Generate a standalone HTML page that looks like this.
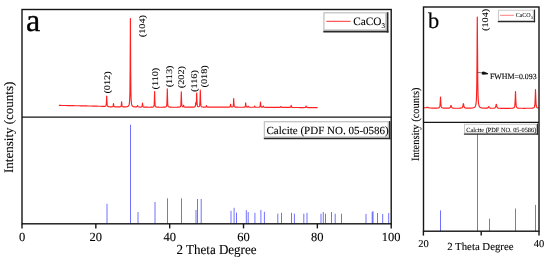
<!DOCTYPE html>
<html><head><meta charset="utf-8"><style>
html,body{margin:0;padding:0;background:#fff;}
svg{display:block;text-rendering:geometricPrecision;}
text{font-family:"Liberation Serif","Times New Roman",serif;fill:#000;stroke:#000;stroke-width:0.1px;}
.pk text{stroke-width:0.1px;}
</style></head><body>
<svg width="550" height="261" viewBox="0 0 550 261">
<rect width="550" height="261" fill="#fff"/>
<!-- PANEL A -->
<g fill="none" stroke="#0000ff" stroke-width="0.56">
<line x1="107.0" y1="203.8" x2="107.0" y2="223.8"/>
<line x1="130.5" y1="124.8" x2="130.5" y2="223.8"/>
<line x1="138.0" y1="212.0" x2="138.0" y2="223.8"/>
<line x1="155.0" y1="202.0" x2="155.0" y2="223.8"/>
<line x1="167.5" y1="198.3" x2="167.5" y2="223.8"/>
<line x1="181.5" y1="198.3" x2="181.5" y2="223.8"/>
<line x1="196.0" y1="210.0" x2="196.0" y2="223.8"/>
<line x1="197.5" y1="199.0" x2="197.5" y2="223.8"/>
<line x1="201.2" y1="199.0" x2="201.2" y2="223.8"/>
<line x1="231.0" y1="210.8" x2="231.0" y2="223.8"/>
<line x1="234.1" y1="207.8" x2="234.1" y2="223.8"/>
<line x1="236.5" y1="212.6" x2="236.5" y2="223.8"/>
<line x1="246.3" y1="210.1" x2="246.3" y2="223.8"/>
<line x1="248.2" y1="212.0" x2="248.2" y2="223.8"/>
<line x1="254.9" y1="212.8" x2="254.9" y2="223.8"/>
<line x1="260.9" y1="209.9" x2="260.9" y2="223.8"/>
<line x1="264.4" y1="211.8" x2="264.4" y2="223.8"/>
<line x1="277.8" y1="213.6" x2="277.8" y2="223.8"/>
<line x1="281.5" y1="212.8" x2="281.5" y2="223.8"/>
<line x1="291.5" y1="212.8" x2="291.5" y2="223.8"/>
<line x1="294.4" y1="213.7" x2="294.4" y2="223.8"/>
<line x1="303.8" y1="213.7" x2="303.8" y2="223.8"/>
<line x1="307.0" y1="212.8" x2="307.0" y2="223.8"/>
<line x1="321.0" y1="213.7" x2="321.0" y2="223.8"/>
<line x1="323.3" y1="212.0" x2="323.3" y2="223.8"/>
<line x1="325.5" y1="213.7" x2="325.5" y2="223.8"/>
<line x1="331.5" y1="212.0" x2="331.5" y2="223.8"/>
<line x1="335.2" y1="213.7" x2="335.2" y2="223.8"/>
<line x1="341.5" y1="213.7" x2="341.5" y2="223.8"/>
<line x1="366.0" y1="213.9" x2="366.0" y2="223.8"/>
<line x1="372.2" y1="212.0" x2="372.2" y2="223.8"/>
<line x1="373.0" y1="211.1" x2="373.0" y2="223.8"/>
<line x1="377.5" y1="213.0" x2="377.5" y2="223.8"/>
<line x1="382.7" y1="213.9" x2="382.7" y2="223.8"/>
<line x1="388.7" y1="213.0" x2="388.7" y2="223.8"/>
</g>
<path d="M58.90,105.40 L59.15,105.40 L59.40,105.41 L59.65,105.41 L59.90,105.42 L60.15,105.42 L60.40,105.43 L60.65,105.43 L60.90,105.44 L61.15,105.44 L61.40,105.45 L61.65,105.45 L61.90,105.46 L62.15,105.46 L62.40,105.47 L62.65,105.47 L62.90,105.48 L63.15,105.48 L63.40,105.49 L63.65,105.49 L63.90,105.49 L64.15,105.50 L64.40,105.50 L64.65,105.51 L64.90,105.51 L65.15,105.52 L65.40,105.52 L65.65,105.53 L65.90,105.53 L66.15,105.54 L66.40,105.54 L66.65,105.55 L66.90,105.55 L67.15,105.56 L67.40,105.56 L67.65,105.57 L67.90,105.57 L68.15,105.58 L68.40,105.58 L68.65,105.59 L68.90,105.59 L69.15,105.60 L69.40,105.60 L69.65,105.61 L69.90,105.61 L70.15,105.61 L70.40,105.62 L70.65,105.62 L70.90,105.63 L71.15,105.63 L71.40,105.64 L71.65,105.64 L71.90,105.65 L72.15,105.65 L72.40,105.66 L72.65,105.66 L72.90,105.67 L73.15,105.67 L73.40,105.68 L73.65,105.68 L73.90,105.69 L74.15,105.69 L74.40,105.70 L74.65,105.70 L74.90,105.71 L75.15,105.71 L75.40,105.72 L75.65,105.72 L75.90,105.73 L76.15,105.73 L76.40,105.73 L76.65,105.74 L76.90,105.74 L77.15,105.75 L77.40,105.75 L77.65,105.76 L77.90,105.76 L78.15,105.77 L78.40,105.77 L78.65,105.78 L78.90,105.78 L79.15,105.79 L79.40,105.79 L79.65,105.80 L79.90,105.80 L80.15,105.81 L80.40,105.81 L80.65,105.82 L80.90,105.82 L81.15,105.83 L81.40,105.83 L81.65,105.84 L81.90,105.84 L82.15,105.84 L82.40,105.85 L82.65,105.85 L82.90,105.86 L83.15,105.86 L83.40,105.87 L83.65,105.87 L83.90,105.88 L84.15,105.88 L84.40,105.89 L84.65,105.89 L84.90,105.90 L85.15,105.90 L85.40,105.91 L85.65,105.91 L85.90,105.92 L86.15,105.92 L86.40,105.93 L86.65,105.93 L86.90,105.94 L87.15,105.94 L87.40,105.95 L87.65,105.95 L87.90,105.95 L88.15,105.96 L88.40,105.96 L88.65,105.97 L88.90,105.97 L89.15,105.98 L89.40,105.98 L89.65,105.99 L89.90,105.99 L90.15,106.00 L90.40,106.01 L90.65,106.01 L90.90,106.02 L91.15,106.03 L91.40,106.03 L91.65,106.04 L91.90,106.05 L92.15,106.05 L92.40,106.06 L92.65,106.07 L92.90,106.08 L93.15,106.08 L93.40,106.09 L93.65,106.10 L93.90,106.10 L94.15,106.11 L94.40,106.12 L94.65,106.12 L94.90,106.13 L95.15,106.14 L95.40,106.15 L95.65,106.15 L95.90,106.16 L96.15,106.17 L96.40,106.17 L96.65,106.18 L96.90,106.19 L97.15,106.19 L97.40,106.20 L97.65,106.21 L97.90,106.21 L98.15,106.22 L98.40,106.23 L98.65,106.23 L98.90,106.24 L99.15,106.25 L99.40,106.25 L99.65,106.26 L99.90,106.26 L100.15,106.27 L100.40,106.28 L100.65,106.28 L100.90,106.29 L101.15,106.29 L101.40,106.30 L101.65,106.30 L101.90,106.31 L102.15,106.31 L102.40,106.32 L102.65,106.32 L102.90,106.32 L103.15,106.33 L103.40,106.33 L103.65,106.33 L103.90,106.32 L104.15,106.32 L104.40,106.33 L104.65,106.32 L104.90,106.31 L105.15,106.27 L105.40,106.21 L105.65,106.08 L105.90,105.80 L106.15,105.10 L106.40,102.87 L106.65,96.50 L106.70,96.00 L106.90,100.81 L107.15,104.60 L107.40,105.71 L107.65,106.15 L107.90,106.36 L108.15,106.49 L108.40,106.57 L108.65,106.64 L108.90,106.68 L109.15,106.72 L109.40,106.76 L109.65,106.79 L109.90,106.82 L110.15,106.83 L110.40,106.84 L110.65,106.84 L110.90,106.84 L111.15,106.84 L111.40,106.84 L111.65,106.83 L111.90,106.82 L112.15,106.80 L112.40,106.76 L112.65,106.68 L112.90,106.50 L113.15,105.96 L113.40,104.14 L113.50,103.60 L113.65,104.63 L113.90,106.13 L114.15,106.57 L114.40,106.72 L114.65,106.80 L114.90,106.84 L115.15,106.86 L115.40,106.88 L115.65,106.89 L115.90,106.90 L116.15,106.90 L116.40,106.91 L116.65,106.91 L116.90,106.91 L117.15,106.92 L117.40,106.92 L117.65,106.92 L117.90,106.92 L118.15,106.92 L118.40,106.92 L118.65,106.91 L118.90,106.91 L119.15,106.91 L119.40,106.90 L119.65,106.88 L119.90,106.86 L120.15,106.83 L120.40,106.78 L120.65,106.69 L120.90,106.48 L121.15,105.95 L121.40,104.10 L121.60,101.80 L121.65,101.99 L121.90,105.13 L122.15,106.23 L122.40,106.58 L122.65,106.73 L122.90,106.80 L123.15,106.84 L123.40,106.86 L123.65,106.88 L123.90,106.88 L124.15,106.89 L124.40,106.89 L124.65,106.88 L124.90,106.88 L125.15,106.87 L125.40,106.86 L125.65,106.85 L125.90,106.83 L126.15,106.81 L126.40,106.78 L126.65,106.75 L126.90,106.71 L127.15,106.65 L127.40,106.59 L127.65,106.50 L127.90,106.39 L128.15,106.23 L128.40,106.01 L128.65,105.70 L128.90,105.21 L129.15,104.42 L129.40,103.00 L129.65,100.07 L129.90,92.73 L130.15,68.46 L130.40,18.59 L130.40,18.60 L130.65,68.47 L130.90,92.74 L131.15,100.08 L131.40,103.01 L131.65,104.44 L131.90,105.24 L132.15,105.72 L132.40,106.04 L132.65,106.27 L132.90,106.43 L133.15,106.54 L133.40,106.63 L133.65,106.70 L133.90,106.76 L134.15,106.80 L134.40,106.84 L134.65,106.87 L134.90,106.89 L135.15,106.91 L135.40,106.92 L135.65,106.93 L135.90,106.93 L136.15,106.92 L136.40,106.90 L136.65,106.84 L136.90,106.73 L137.15,106.46 L137.40,105.88 L137.60,105.60 L137.65,105.54 L137.90,106.17 L138.15,106.62 L138.40,106.83 L138.65,106.93 L138.90,106.98 L139.15,107.01 L139.40,107.03 L139.65,107.05 L139.90,107.06 L140.15,107.06 L140.40,107.06 L140.65,107.06 L140.90,107.04 L141.15,107.02 L141.40,106.97 L141.65,106.88 L141.90,106.65 L142.15,105.98 L142.40,103.75 L142.50,103.10 L142.65,104.36 L142.90,106.20 L143.15,106.74 L143.40,106.93 L143.65,107.02 L143.90,107.07 L144.15,107.10 L144.40,107.12 L144.65,107.13 L144.90,107.14 L145.15,107.15 L145.40,107.16 L145.65,107.16 L145.90,107.17 L146.15,107.17 L146.40,107.18 L146.65,107.18 L146.90,107.18 L147.15,107.19 L147.40,107.19 L147.65,107.19 L147.90,107.19 L148.15,107.20 L148.40,107.20 L148.65,107.20 L148.90,107.20 L149.15,107.20 L149.40,107.20 L149.65,107.20 L149.90,107.20 L150.15,107.20 L150.40,107.19 L150.65,107.19 L150.90,107.19 L151.15,107.18 L151.40,107.17 L151.65,107.16 L151.90,107.15 L152.15,107.13 L152.40,107.10 L152.65,107.07 L152.90,107.02 L153.15,106.94 L153.40,106.81 L153.65,106.57 L153.90,106.05 L154.15,104.65 L154.40,99.41 L154.60,91.60 L154.65,92.50 L154.90,102.42 L155.15,105.41 L155.40,106.31 L155.65,106.69 L155.90,106.87 L156.15,106.98 L156.40,107.04 L156.65,107.09 L156.90,107.12 L157.15,107.14 L157.40,107.15 L157.65,107.17 L157.90,107.17 L158.15,107.18 L158.40,107.19 L158.65,107.19 L158.90,107.20 L159.15,107.20 L159.40,107.20 L159.65,107.20 L159.90,107.21 L160.15,107.21 L160.40,107.21 L160.65,107.21 L160.90,107.21 L161.15,107.21 L161.40,107.21 L161.65,107.21 L161.90,107.20 L162.15,107.20 L162.40,107.20 L162.65,107.20 L162.90,107.19 L163.15,107.19 L163.40,107.19 L163.65,107.18 L163.90,107.17 L164.15,107.16 L164.40,107.15 L164.65,107.13 L164.90,107.11 L165.15,107.08 L165.40,107.03 L165.65,106.97 L165.90,106.87 L166.15,106.70 L166.40,106.37 L166.65,105.65 L166.90,103.57 L167.15,95.49 L167.30,88.90 L167.40,92.56 L167.65,102.72 L167.90,105.40 L168.15,106.27 L168.40,106.65 L168.65,106.84 L168.90,106.95 L169.15,107.02 L169.40,107.07 L169.65,107.10 L169.90,107.13 L170.15,107.15 L170.40,107.16 L170.65,107.17 L170.90,107.18 L171.15,107.19 L171.40,107.19 L171.65,107.20 L171.90,107.20 L172.15,107.20 L172.40,107.21 L172.65,107.21 L172.90,107.21 L173.15,107.21 L173.40,107.21 L173.65,107.21 L173.90,107.21 L174.15,107.21 L174.40,107.21 L174.65,107.21 L174.90,107.21 L175.15,107.21 L175.40,107.21 L175.65,107.21 L175.90,107.21 L176.15,107.21 L176.40,107.21 L176.65,107.20 L176.90,107.20 L177.15,107.20 L177.40,107.19 L177.65,107.19 L177.90,107.18 L178.15,107.17 L178.40,107.16 L178.65,107.14 L178.90,107.13 L179.15,107.10 L179.40,107.06 L179.65,107.01 L179.90,106.92 L180.15,106.78 L180.40,106.50 L180.65,105.89 L180.90,104.13 L181.15,97.33 L181.30,91.80 L181.40,94.86 L181.65,103.41 L181.90,105.65 L182.15,106.38 L182.40,106.67 L182.65,106.79 L182.90,106.81 L183.15,106.66 L183.40,105.97 L183.60,105.20 L183.65,105.18 L183.90,106.42 L184.15,106.87 L184.40,107.02 L184.65,107.08 L184.90,107.12 L185.15,107.14 L185.40,107.15 L185.65,107.16 L185.90,107.17 L186.15,107.18 L186.40,107.18 L186.65,107.18 L186.90,107.19 L187.15,107.19 L187.40,107.19 L187.65,107.19 L187.90,107.19 L188.15,107.19 L188.40,107.19 L188.65,107.19 L188.90,107.19 L189.15,107.19 L189.40,107.19 L189.65,107.19 L189.90,107.19 L190.15,107.18 L190.40,107.18 L190.65,107.18 L190.90,107.18 L191.15,107.17 L191.40,107.17 L191.65,107.16 L191.90,107.16 L192.15,107.15 L192.40,107.15 L192.65,107.14 L192.90,107.13 L193.15,107.12 L193.40,107.10 L193.65,107.08 L193.90,107.06 L194.15,107.02 L194.40,106.97 L194.65,106.88 L194.90,106.74 L195.15,106.46 L195.40,105.75 L195.65,103.46 L195.80,102.50 L195.90,102.43 L196.15,104.17 L196.40,102.23 L196.65,93.48 L196.70,93.00 L196.90,99.86 L197.15,104.67 L197.40,105.96 L197.65,106.43 L197.90,106.64 L198.15,106.74 L198.40,106.78 L198.65,106.77 L198.90,106.71 L199.15,106.58 L199.40,106.29 L199.65,105.63 L199.90,103.68 L200.15,96.13 L200.30,90.00 L200.40,93.38 L200.65,102.91 L200.90,105.43 L201.15,106.25 L201.40,106.61 L201.65,106.79 L201.90,106.90 L202.15,106.96 L202.40,107.01 L202.65,107.04 L202.90,107.06 L203.15,107.08 L203.40,107.09 L203.65,107.10 L203.90,107.11 L204.15,107.11 L204.40,107.11 L204.65,107.11 L204.90,107.11 L205.15,107.10 L205.40,107.08 L205.65,107.03 L205.90,106.91 L206.15,106.50 L206.40,105.67 L206.40,105.70 L206.65,106.51 L206.90,106.92 L207.15,107.04 L207.40,107.09 L207.65,107.11 L207.90,107.13 L208.15,107.14 L208.40,107.14 L208.65,107.15 L208.90,107.15 L209.15,107.15 L209.40,107.15 L209.65,107.15 L209.90,107.15 L210.15,107.15 L210.40,107.15 L210.65,107.16 L210.90,107.16 L211.15,107.16 L211.40,107.16 L211.65,107.16 L211.90,107.16 L212.15,107.16 L212.40,107.16 L212.65,107.16 L212.90,107.15 L213.15,107.15 L213.40,107.15 L213.65,107.15 L213.90,107.15 L214.15,107.15 L214.40,107.15 L214.65,107.15 L214.90,107.15 L215.15,107.15 L215.40,107.15 L215.65,107.15 L215.90,107.15 L216.15,107.15 L216.40,107.15 L216.65,107.15 L216.90,107.15 L217.15,107.15 L217.40,107.15 L217.65,107.15 L217.90,107.15 L218.15,107.15 L218.40,107.14 L218.65,107.14 L218.90,107.14 L219.15,107.14 L219.40,107.14 L219.65,107.14 L219.90,107.14 L220.15,107.14 L220.40,107.14 L220.65,107.14 L220.90,107.14 L221.15,107.15 L221.40,107.15 L221.65,107.15 L221.90,107.15 L222.15,107.15 L222.40,107.15 L222.65,107.15 L222.90,107.15 L223.15,107.15 L223.40,107.15 L223.65,107.15 L223.90,107.15 L224.15,107.16 L224.40,107.16 L224.65,107.16 L224.90,107.16 L225.15,107.16 L225.40,107.16 L225.65,107.16 L225.90,107.16 L226.15,107.16 L226.40,107.16 L226.65,107.16 L226.90,107.16 L227.15,107.16 L227.40,107.15 L227.65,107.15 L227.90,107.15 L228.15,107.14 L228.40,107.14 L228.65,107.13 L228.90,107.12 L229.15,107.10 L229.40,107.07 L229.65,107.01 L229.90,106.89 L230.15,106.58 L230.40,105.52 L230.60,104.20 L230.65,104.31 L230.90,106.10 L231.15,106.73 L231.40,106.92 L231.65,106.99 L231.90,107.01 L232.15,106.99 L232.40,106.95 L232.65,106.86 L232.90,106.66 L233.15,106.16 L233.40,104.50 L233.65,98.99 L233.70,98.50 L233.90,102.84 L234.15,105.76 L234.40,106.54 L234.65,106.83 L234.90,106.96 L235.15,107.04 L235.40,107.08 L235.65,107.11 L235.90,107.13 L236.15,107.15 L236.40,107.16 L236.65,107.17 L236.90,107.18 L237.15,107.18 L237.40,107.19 L237.65,107.19 L237.90,107.20 L238.15,107.20 L238.40,107.20 L238.65,107.20 L238.90,107.21 L239.15,107.21 L239.40,107.21 L239.65,107.21 L239.90,107.21 L240.15,107.21 L240.40,107.21 L240.65,107.22 L240.90,107.22 L241.15,107.22 L241.40,107.22 L241.65,107.22 L241.90,107.22 L242.15,107.22 L242.40,107.22 L242.65,107.21 L242.90,107.21 L243.15,107.21 L243.40,107.20 L243.65,107.19 L243.90,107.18 L244.15,107.17 L244.40,107.14 L244.65,107.09 L244.90,106.98 L245.15,106.73 L245.40,105.90 L245.65,103.13 L245.70,102.90 L245.90,105.05 L246.15,106.51 L246.40,106.89 L246.65,107.03 L246.90,107.08 L247.15,107.08 L247.40,107.04 L247.65,106.89 L247.90,106.45 L248.10,106.10 L248.15,106.10 L248.40,106.69 L248.65,107.00 L248.90,107.12 L249.15,107.17 L249.40,107.20 L249.65,107.22 L249.90,107.23 L250.15,107.24 L250.40,107.24 L250.65,107.24 L250.90,107.25 L251.15,107.25 L251.40,107.25 L251.65,107.25 L251.90,107.25 L252.15,107.25 L252.40,107.25 L252.65,107.25 L252.90,107.24 L253.15,107.23 L253.40,107.21 L253.65,107.18 L253.90,107.11 L254.15,106.95 L254.40,106.49 L254.60,106.10 L254.65,106.12 L254.90,106.72 L255.15,107.04 L255.40,107.15 L255.65,107.20 L255.90,107.23 L256.15,107.24 L256.40,107.25 L256.65,107.26 L256.90,107.26 L257.15,107.26 L257.40,107.26 L257.65,107.26 L257.90,107.26 L258.15,107.26 L258.40,107.25 L258.65,107.24 L258.90,107.22 L259.15,107.19 L259.40,107.13 L259.65,107.03 L259.90,106.78 L260.15,106.02 L260.40,103.12 L260.50,102.10 L260.65,103.96 L260.90,106.25 L261.15,106.84 L261.40,107.04 L261.65,107.13 L261.90,107.16 L262.15,107.17 L262.40,107.15 L262.65,107.07 L262.90,106.85 L263.15,106.26 L263.30,106.00 L263.40,106.12 L263.65,106.79 L263.90,107.07 L264.15,107.18 L264.40,107.24 L264.65,107.27 L264.90,107.28 L265.15,107.30 L265.40,107.30 L265.65,107.31 L265.90,107.32 L266.15,107.32 L266.40,107.32 L266.65,107.33 L266.90,107.33 L267.15,107.33 L267.40,107.33 L267.65,107.34 L267.90,107.34 L268.15,107.34 L268.40,107.34 L268.65,107.34 L268.90,107.34 L269.15,107.35 L269.40,107.35 L269.65,107.35 L269.90,107.35 L270.15,107.35 L270.40,107.35 L270.65,107.35 L270.90,107.36 L271.15,107.36 L271.40,107.36 L271.65,107.36 L271.90,107.36 L272.15,107.36 L272.40,107.36 L272.65,107.36 L272.90,107.36 L273.15,107.37 L273.40,107.37 L273.65,107.37 L273.90,107.37 L274.15,107.37 L274.40,107.37 L274.65,107.37 L274.90,107.37 L275.15,107.37 L275.40,107.37 L275.65,107.38 L275.90,107.38 L276.15,107.38 L276.40,107.38 L276.65,107.38 L276.90,107.38 L277.15,107.38 L277.40,107.38 L277.65,107.38 L277.90,107.38 L278.15,107.38 L278.40,107.38 L278.65,107.38 L278.90,107.38 L279.15,107.37 L279.40,107.37 L279.65,107.36 L279.90,107.34 L280.15,107.31 L280.40,107.24 L280.65,107.05 L280.90,106.60 L281.00,106.50 L281.15,106.70 L281.40,107.11 L281.65,107.27 L281.90,107.33 L282.15,107.36 L282.40,107.38 L282.65,107.39 L282.90,107.40 L283.15,107.41 L283.40,107.41 L283.65,107.41 L283.90,107.42 L284.15,107.42 L284.40,107.42 L284.65,107.43 L284.90,107.43 L285.15,107.43 L285.40,107.43 L285.65,107.43 L285.90,107.44 L286.15,107.44 L286.40,107.44 L286.65,107.44 L286.90,107.44 L287.15,107.44 L287.40,107.44 L287.65,107.44 L287.90,107.44 L288.15,107.44 L288.40,107.44 L288.65,107.44 L288.90,107.43 L289.15,107.43 L289.40,107.42 L289.65,107.40 L289.90,107.37 L290.15,107.31 L290.40,107.19 L290.65,106.90 L290.90,106.10 L291.10,105.40 L291.15,105.46 L291.40,106.52 L291.65,107.06 L291.90,107.26 L292.15,107.36 L292.40,107.40 L292.65,107.43 L292.90,107.45 L293.15,107.46 L293.40,107.47 L293.65,107.48 L293.90,107.49 L294.15,107.49 L294.40,107.50 L294.65,107.50 L294.90,107.50 L295.15,107.51 L295.40,107.51 L295.65,107.51 L295.90,107.52 L296.15,107.52 L296.40,107.52 L296.65,107.52 L296.90,107.53 L297.15,107.53 L297.40,107.53 L297.65,107.53 L297.90,107.54 L298.15,107.54 L298.40,107.54 L298.65,107.54 L298.90,107.54 L299.15,107.55 L299.40,107.55 L299.65,107.55 L299.90,107.55 L300.15,107.55 L300.40,107.56 L300.65,107.56 L300.90,107.56 L301.15,107.56 L301.40,107.56 L301.65,107.56 L301.90,107.57 L302.15,107.57 L302.40,107.57 L302.65,107.57 L302.90,107.57 L303.15,107.57 L303.40,107.57 L303.65,107.57 L303.90,107.56 L304.15,107.56 L304.40,107.55 L304.65,107.54 L304.90,107.53 L305.15,107.49 L305.40,107.42 L305.65,107.27 L305.90,106.86 L306.15,106.05 L306.20,106.00 L306.40,106.54 L306.65,107.16 L306.90,107.39 L307.15,107.49 L307.40,107.53 L307.65,107.56 L307.90,107.58 L308.15,107.59 L308.40,107.60 L308.65,107.61 L308.90,107.61 L309.15,107.62 L309.40,107.62 L309.65,107.62 L309.90,107.63 L310.15,107.63 L310.40,107.63 L310.65,107.64 L310.90,107.64 L311.15,107.64 L311.40,107.64 L311.65,107.65 L311.90,107.65 L312.15,107.65 L312.40,107.65 L312.65,107.66 L312.90,107.66 L313.15,107.66 L313.40,107.66 L313.65,107.66 L313.90,107.67 L314.15,107.67 L314.40,107.67 L314.65,107.67 L314.90,107.68 L315.15,107.68 L315.40,107.68 L315.65,107.68 L315.90,107.68 L316.15,107.69 L316.40,107.69 L316.65,107.69 L316.90,107.69 L317.15,107.69 L317.40,107.70 L317.65,107.70" fill="none" stroke="#ff2020" stroke-width="1.15" stroke-linejoin="round"/>
<g stroke="#151515" stroke-width="1.4" fill="none">
<rect x="22" y="9.5" width="369.2" height="214.3"/>
<line x1="22" y1="117.15" x2="391.2" y2="117.15"/>
<line x1="22.00" y1="223.8" x2="22.00" y2="228.4"/><line x1="95.84" y1="223.8" x2="95.84" y2="228.4"/><line x1="169.68" y1="223.8" x2="169.68" y2="228.4"/><line x1="243.52" y1="223.8" x2="243.52" y2="228.4"/><line x1="317.36" y1="223.8" x2="317.36" y2="228.4"/><line x1="391.20" y1="223.8" x2="391.20" y2="228.4"/>
</g>
<g font-size="12.5" text-anchor="middle">
<text x="22.00" y="241.2">0</text><text x="95.84" y="241.2">20</text><text x="169.68" y="241.2">40</text><text x="243.52" y="241.2">60</text><text x="317.36" y="241.2">80</text><text x="391.20" y="241.2">100</text>
</g>
<text transform="translate(176.6,253.6) scale(1,1.06)" font-size="13">2 Theta Degree</text>
<text transform="translate(13,173) rotate(-90)" font-size="13">Intensity (counts)</text>
<text x="25.9" y="31" font-size="32" style="stroke-width:0.35px">a</text>
<g font-size="8.6" class="pk">
<text transform="translate(109.7,93.6) rotate(-90) scale(1.19,1)">(012)</text>
<text transform="translate(144.8,37.2) rotate(-90) scale(1.19,1)">(104)</text>
<text transform="translate(158.1,89.5) rotate(-90) scale(1.19,1)">(110)</text>
<text transform="translate(171.6,87.3) rotate(-90) scale(1.19,1)">(113)</text>
<text transform="translate(183.6,88.2) rotate(-90) scale(1.19,1)">(202)</text>
<text transform="translate(196.9,91.9) rotate(-90) scale(1.19,1)">(116)</text>
<text transform="translate(206.5,87.4) rotate(-90) scale(1.19,1)">(018)</text>
</g>
<!-- legend a top -->
<rect x="323.9" y="12.8" width="62.00" height="17.20" fill="#fff" stroke="#c4c4c4" stroke-width="1.3"/><line x1="323.30" y1="31.70" x2="388.45" y2="31.70" stroke="#2a2a2a" stroke-width="1.7"/><line x1="387.60" y1="12.20" x2="387.60" y2="32.55" stroke="#2a2a2a" stroke-width="1.7"/>
<line x1="326.3" y1="21.3" x2="350.5" y2="21.3" stroke="#ff3030" stroke-width="1"/>
<text x="353.2" y="25.3" font-size="11.3">CaCO<tspan font-size="7" dy="2.4">3</tspan></text>
<!-- legend a bottom -->
<rect x="264.4" y="121.7" width="123.90" height="15.30" fill="#fff" stroke="#c4c4c4" stroke-width="1.3"/><line x1="263.80" y1="138.40" x2="390.45" y2="138.40" stroke="#2a2a2a" stroke-width="1.5"/><line x1="389.70" y1="121.10" x2="389.70" y2="139.15" stroke="#2a2a2a" stroke-width="1.5"/>
<text x="266.5" y="133.5" font-size="11">Calcite (PDF NO. 05-0586)</text>

<!-- PANEL B -->
<g fill="none" stroke="#0000ff" stroke-width="0.56">
<line x1="440.5" y1="210.4" x2="440.5" y2="231.2"/>
<line x1="477.5" y1="134.0" x2="477.5" y2="231.2"/>
<line x1="489.5" y1="218.7" x2="489.5" y2="231.2"/>
<line x1="515.5" y1="208.5" x2="515.5" y2="231.2"/>
<line x1="535.5" y1="204.9" x2="535.5" y2="231.2"/>
</g>
<path d="M423.50,107.76 L423.75,107.77 L424.00,107.78 L424.25,107.78 L424.50,107.78 L424.75,107.79 L425.00,107.79 L425.25,107.78 L425.50,107.77 L425.75,107.76 L426.00,107.73 L426.25,107.69 L426.50,107.62 L426.75,107.52 L427.00,107.39 L427.25,107.25 L427.50,107.19 L427.50,107.20 L427.75,107.27 L428.00,107.43 L428.25,107.59 L428.50,107.71 L428.75,107.80 L429.00,107.87 L429.25,107.92 L429.50,107.95 L429.75,107.98 L430.00,108.01 L430.25,108.02 L430.50,108.04 L430.75,108.04 L431.00,108.05 L431.25,108.06 L431.50,108.06 L431.75,108.07 L432.00,108.07 L432.25,108.08 L432.50,108.08 L432.75,108.08 L433.00,108.09 L433.25,108.09 L433.50,108.09 L433.75,108.09 L434.00,108.10 L434.25,108.10 L434.50,108.10 L434.75,108.10 L435.00,108.10 L435.25,108.10 L435.50,108.10 L435.75,108.10 L436.00,108.09 L436.25,108.09 L436.50,108.09 L436.75,108.08 L437.00,108.07 L437.25,108.06 L437.50,108.05 L437.75,108.03 L438.00,108.01 L438.25,107.97 L438.50,107.92 L438.75,107.85 L439.00,107.75 L439.25,107.57 L439.50,107.26 L439.75,106.65 L440.00,105.24 L440.25,101.63 L440.50,97.08 L440.50,97.10 L440.75,101.63 L441.00,105.25 L441.25,106.66 L441.50,107.28 L441.75,107.59 L442.00,107.77 L442.25,107.88 L442.50,107.96 L442.75,108.01 L443.00,108.05 L443.25,108.08 L443.50,108.10 L443.75,108.12 L444.00,108.13 L444.25,108.14 L444.50,108.15 L444.75,108.16 L445.00,108.17 L445.25,108.17 L445.50,108.18 L445.75,108.18 L446.00,108.18 L446.25,108.19 L446.50,108.19 L446.75,108.19 L447.00,108.19 L447.25,108.19 L447.50,108.18 L447.75,108.18 L448.00,108.17 L448.25,108.16 L448.50,108.14 L448.75,108.12 L449.00,108.09 L449.25,108.05 L449.50,107.98 L449.75,107.88 L450.00,107.71 L450.25,107.41 L450.50,106.87 L450.75,106.03 L451.00,105.47 L451.00,105.50 L451.25,106.03 L451.50,106.87 L451.75,107.41 L452.00,107.71 L452.25,107.89 L452.50,107.99 L452.75,108.06 L453.00,108.11 L453.25,108.14 L453.50,108.16 L453.75,108.18 L454.00,108.20 L454.25,108.21 L454.50,108.22 L454.75,108.22 L455.00,108.23 L455.25,108.23 L455.50,108.23 L455.75,108.24 L456.00,108.24 L456.25,108.24 L456.50,108.24 L456.75,108.24 L457.00,108.24 L457.25,108.24 L457.50,108.24 L457.75,108.24 L458.00,108.23 L458.25,108.23 L458.50,108.23 L458.75,108.22 L459.00,108.22 L459.25,108.21 L459.50,108.20 L459.75,108.19 L460.00,108.18 L460.25,108.17 L460.50,108.15 L460.75,108.12 L461.00,108.09 L461.25,108.04 L461.50,107.98 L461.75,107.89 L462.00,107.75 L462.25,107.54 L462.50,107.19 L462.75,106.56 L463.00,105.45 L463.25,104.03 L463.40,103.70 L463.50,103.83 L463.75,105.17 L464.00,106.38 L464.25,107.08 L464.50,107.48 L464.75,107.71 L465.00,107.86 L465.25,107.95 L465.50,108.02 L465.75,108.06 L466.00,108.09 L466.25,108.12 L466.50,108.14 L466.75,108.15 L467.00,108.16 L467.25,108.17 L467.50,108.17 L467.75,108.18 L468.00,108.18 L468.25,108.18 L468.50,108.18 L468.75,108.18 L469.00,108.17 L469.25,108.17 L469.50,108.17 L469.75,108.16 L470.00,108.15 L470.25,108.14 L470.50,108.13 L470.75,108.12 L471.00,108.11 L471.25,108.09 L471.50,108.07 L471.75,108.05 L472.00,108.03 L472.25,108.00 L472.50,107.97 L472.75,107.93 L473.00,107.88 L473.25,107.83 L473.50,107.76 L473.75,107.68 L474.00,107.58 L474.25,107.46 L474.50,107.29 L474.75,107.09 L475.00,106.80 L475.25,106.42 L475.50,105.87 L475.75,105.04 L476.00,103.72 L476.25,101.44 L476.50,97.07 L476.75,87.39 L477.00,62.66 L477.25,19.45 L477.30,17.00 L477.50,45.09 L477.75,80.23 L478.00,94.16 L478.25,100.06 L478.50,102.97 L478.75,104.59 L479.00,105.58 L479.25,106.23 L479.50,106.67 L479.75,106.99 L480.00,107.23 L480.25,107.41 L480.50,107.55 L480.75,107.66 L481.00,107.75 L481.25,107.82 L481.50,107.88 L481.75,107.93 L482.00,107.97 L482.25,108.01 L482.50,108.04 L482.75,108.07 L483.00,108.09 L483.25,108.11 L483.50,108.13 L483.75,108.14 L484.00,108.15 L484.25,108.16 L484.50,108.17 L484.75,108.18 L485.00,108.19 L485.25,108.19 L485.50,108.19 L485.75,108.19 L486.00,108.19 L486.25,108.19 L486.50,108.18 L486.75,108.16 L487.00,108.14 L487.25,108.11 L487.50,108.05 L487.75,107.95 L488.00,107.78 L488.25,107.48 L488.50,106.98 L488.75,106.53 L488.80,106.60 L489.00,106.76 L489.25,107.31 L489.50,107.69 L489.75,107.91 L490.00,108.03 L490.25,108.11 L490.50,108.16 L490.75,108.19 L491.00,108.21 L491.25,108.22 L491.50,108.23 L491.75,108.24 L492.00,108.24 L492.25,108.24 L492.50,108.24 L492.75,108.24 L493.00,108.23 L493.25,108.22 L493.50,108.20 L493.75,108.18 L494.00,108.15 L494.25,108.10 L494.50,108.04 L494.75,107.95 L495.00,107.81 L495.25,107.57 L495.50,107.17 L495.75,106.45 L496.00,105.27 L496.25,104.20 L496.30,104.20 L496.50,104.74 L496.75,106.04 L497.00,106.94 L497.25,107.45 L497.50,107.74 L497.75,107.92 L498.00,108.03 L498.25,108.11 L498.50,108.16 L498.75,108.20 L499.00,108.23 L499.25,108.25 L499.50,108.27 L499.75,108.28 L500.00,108.30 L500.25,108.30 L500.50,108.31 L500.75,108.32 L501.00,108.32 L501.25,108.33 L501.50,108.33 L501.75,108.33 L502.00,108.34 L502.25,108.34 L502.50,108.34 L502.75,108.34 L503.00,108.34 L503.25,108.34 L503.50,108.34 L503.75,108.34 L504.00,108.34 L504.25,108.34 L504.50,108.34 L504.75,108.34 L505.00,108.34 L505.25,108.34 L505.50,108.34 L505.75,108.34 L506.00,108.34 L506.25,108.34 L506.50,108.34 L506.75,108.34 L507.00,108.34 L507.25,108.34 L507.50,108.34 L507.75,108.33 L508.00,108.33 L508.25,108.33 L508.50,108.33 L508.75,108.32 L509.00,108.32 L509.25,108.32 L509.50,108.32 L509.75,108.31 L510.00,108.31 L510.25,108.30 L510.50,108.30 L510.75,108.29 L511.00,108.28 L511.25,108.27 L511.50,108.26 L511.75,108.25 L512.00,108.23 L512.25,108.21 L512.50,108.19 L512.75,108.15 L513.00,108.11 L513.25,108.06 L513.50,107.98 L513.75,107.87 L514.00,107.70 L514.25,107.44 L514.50,106.96 L514.75,106.04 L515.00,103.91 L515.25,98.46 L515.50,91.59 L515.50,91.60 L515.75,98.45 L516.00,103.91 L516.25,106.03 L516.50,106.96 L516.75,107.43 L517.00,107.70 L517.25,107.86 L517.50,107.97 L517.75,108.05 L518.00,108.10 L518.25,108.14 L518.50,108.17 L518.75,108.20 L519.00,108.21 L519.25,108.23 L519.50,108.24 L519.75,108.25 L520.00,108.26 L520.25,108.27 L520.50,108.27 L520.75,108.28 L521.00,108.28 L521.25,108.28 L521.50,108.29 L521.75,108.29 L522.00,108.29 L522.25,108.29 L522.50,108.29 L522.75,108.30 L523.00,108.30 L523.25,108.30 L523.50,108.30 L523.75,108.30 L524.00,108.30 L524.25,108.30 L524.50,108.30 L524.75,108.30 L525.00,108.30 L525.25,108.30 L525.50,108.30 L525.75,108.30 L526.00,108.29 L526.25,108.29 L526.50,108.29 L526.75,108.29 L527.00,108.29 L527.25,108.29 L527.50,108.29 L527.75,108.29 L528.00,108.28 L528.25,108.28 L528.50,108.28 L528.75,108.28 L529.00,108.27 L529.25,108.27 L529.50,108.26 L529.75,108.26 L530.00,108.26 L530.25,108.25 L530.50,108.24 L530.75,108.23 L531.00,108.23 L531.25,108.22 L531.50,108.20 L531.75,108.19 L532.00,108.17 L532.25,108.15 L532.50,108.12 L532.75,108.09 L533.00,108.04 L533.25,107.98 L533.50,107.89 L533.75,107.77 L534.00,107.58 L534.25,107.28 L534.50,106.75 L534.75,105.71 L535.00,103.32 L535.25,97.20 L535.50,89.49 L535.50,89.50 L535.75,97.20 L536.00,103.32 L536.25,105.71 L536.50,106.75 L536.75,107.27 L537.00,107.57 L537.25,107.76 L537.50,107.88 L537.75,107.97 L538.00,108.03 L538.25,108.07 L538.50,108.11 L538.75,108.14" fill="none" stroke="#ff2020" stroke-width="1.15" stroke-linejoin="round"/>
<g stroke="#151515" stroke-width="1.4" fill="none">
<rect x="423.5" y="7.0" width="115.5" height="224.2"/>
<line x1="423.5" y1="122.4" x2="539.0" y2="122.4"/>
<line x1="423.40" y1="231.2" x2="423.40" y2="235.6"/><line x1="481.20" y1="231.2" x2="481.20" y2="235.6"/><line x1="539.00" y1="231.2" x2="539.00" y2="235.6"/>
</g>
<g font-size="10.5" text-anchor="middle">
<text x="423.40" y="247.3">20</text><text x="539.00" y="247.3">40</text>
</g>
<text x="447.2" y="250.4" font-size="10.8">2 Theta Degree</text>
<text transform="translate(419.1,161.0) rotate(-90) scale(0.95,1)" font-size="11">Intensity (counts)</text>
<text x="427.9" y="27.6" font-size="22.4" style="stroke-width:0.2px">b</text>
<text transform="translate(488.3,30.9) rotate(-90) scale(1.19,1)" font-size="8.6" style="stroke-width:0.1px">(104)</text>
<!-- arrow -->
<line x1="477.6" y1="72.4" x2="482.5" y2="72.9" stroke="#222" stroke-width="0.6"/>
<polygon points="481.8,71.9 483.8,71.6 488,73.2 488,74.2 483,74.7 481.8,74.3" fill="#111"/>
<text x="489.9" y="78.6" font-size="7.9">FWHM=0.093</text>
<!-- legend b top -->
<rect x="498.4" y="10.2" width="34.90" height="10.30" fill="#fff" stroke="#c4c4c4" stroke-width="0.9"/><line x1="497.80" y1="21.70" x2="535.10" y2="21.70" stroke="#2a2a2a" stroke-width="1.2"/><line x1="534.50" y1="9.60" x2="534.50" y2="22.30" stroke="#2a2a2a" stroke-width="1.2"/>
<line x1="500.1" y1="15.3" x2="513.9" y2="15.3" stroke="#ff6060" stroke-width="0.8"/>
<text x="515.7" y="17.4" font-size="6" style="stroke-width:0.05px">CaCO<tspan font-size="4.2" dy="1.2">3</tspan></text>
<!-- legend b bottom -->
<rect x="464.5" y="124.3" width="71.80" height="8.70" fill="#fff" stroke="#c4c4c4" stroke-width="0.9"/><line x1="463.90" y1="134.20" x2="538.10" y2="134.20" stroke="#2a2a2a" stroke-width="1.2"/><line x1="537.50" y1="123.70" x2="537.50" y2="134.80" stroke="#2a2a2a" stroke-width="1.2"/>
<text x="466.3" y="131.6" font-size="6.3" style="stroke-width:0.05px">Calcite (PDF NO. 05-0586)</text>
</svg>
</body></html>
